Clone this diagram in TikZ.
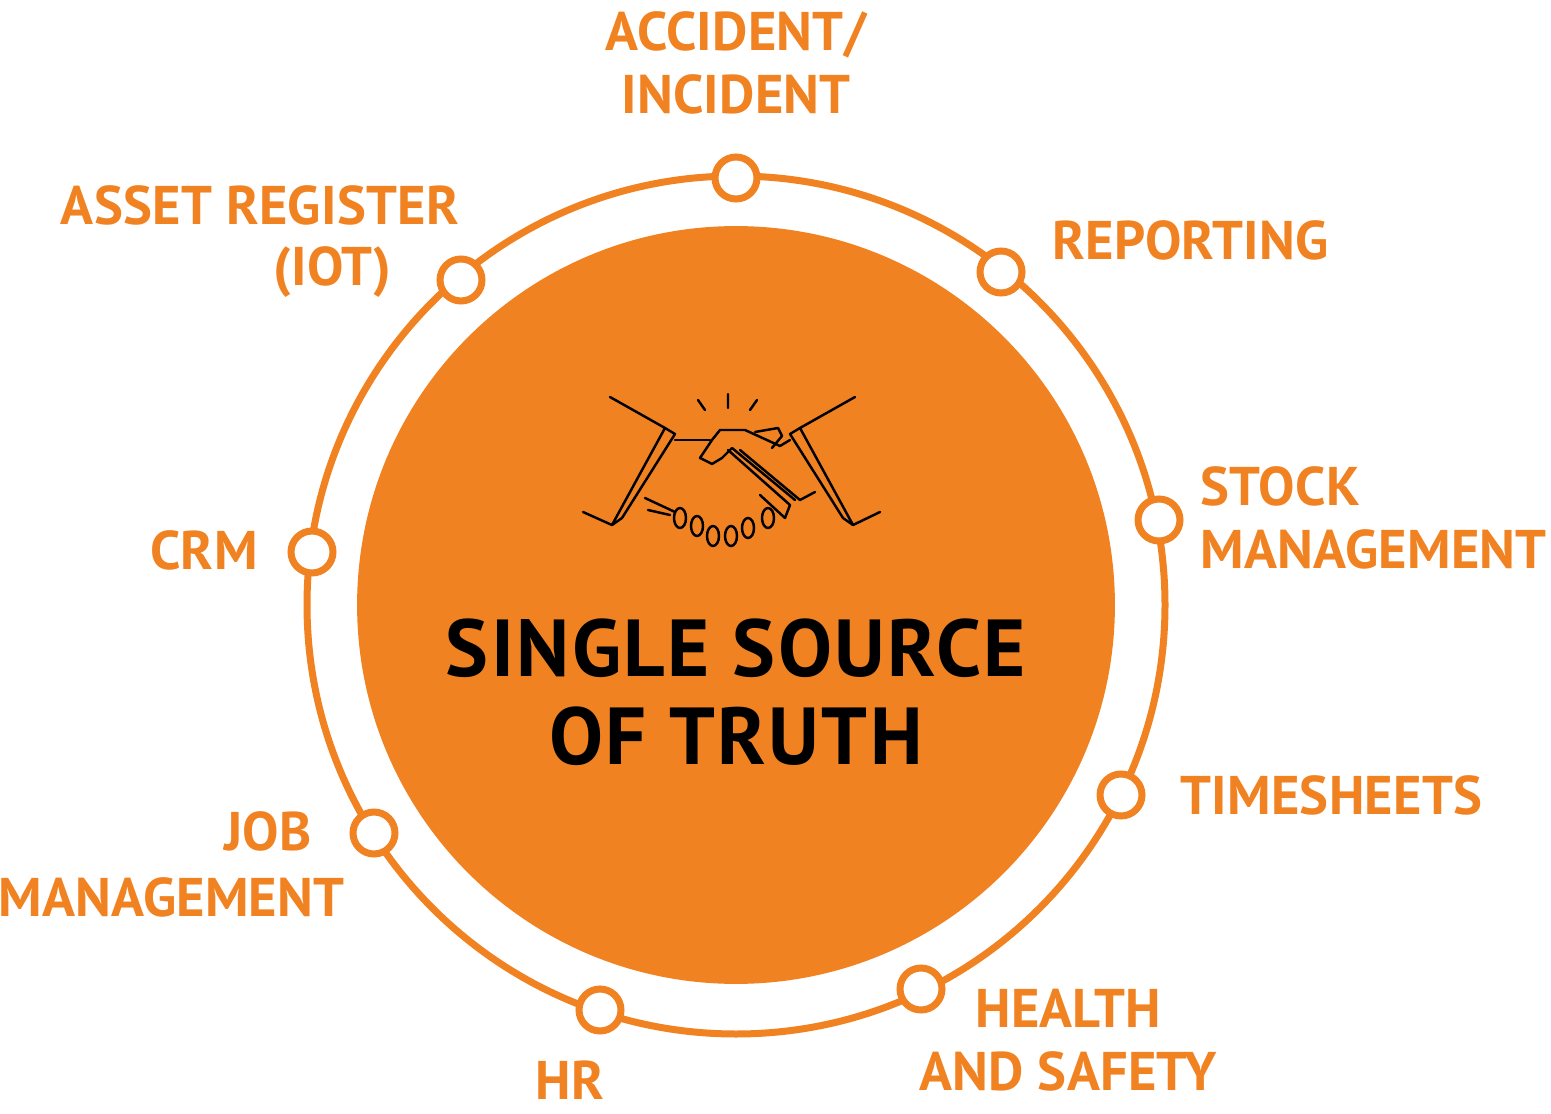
\documentclass[tikz,border=0pt]{standalone}
\usepackage{fontspec}
\setmainfont{PT Sans}
\usepackage{xcolor}
\usetikzlibrary{positioning}
\definecolor{brand}{HTML}{F18221}

\begin{document}
\begin{tikzpicture}[x=0.02cm, y=-0.02cm,
  hub/.style={circle, fill=brand, minimum size=15.16cm, inner sep=0pt}, % the big orange disc
  spoke/.style={circle, draw=brand, line width=7*0.02cm, fill=white, minimum size=0.84cm, inner sep=0pt}, % small ring markers
  tag/.style={text=brand, font=\fontsize{31}{36}\selectfont\bfseries\addfontfeatures{LetterSpace=0.5}, inner sep=0pt, align=center},
  icon/.style={line width=1.4pt, line cap=round, line join=round, draw=black}
]
  \useasboundingbox (0,0) rectangle (1551,1114);
  \node[hub] (core) at (736,605) {};
  \draw[brand, line width=7*0.02cm] (736,605) circle (429);

  \node[spoke] (p1) at (736,178) {};
  \node[spoke] (p2) at (1001,272) {};
  \node[spoke] (p3) at (1159,520) {};
  \node[spoke] (p4) at (1121,795) {};
  \node[spoke] (p5) at (921,989) {};
  \node[spoke] (p6) at (600,1010) {};
  \node[spoke] (p7) at (374,833) {};
  \node[spoke] (p8) at (312,552) {};
  \node[spoke] (p9) at (461,280) {};

  \node[tag] (l1) at (736,63) {ACCIDENT/\\INCIDENT};
  \node[tag, anchor=west] (l2) at (1052,240) {REPORTING};
  \node[tag, anchor=west, align=left] (l3) at (1200,518) {STOCK\\MANAGEMENT};
  \node[tag, anchor=west] (l4) at (1180,795) {TIMESHEETS};
  \node[tag] (l5) at (1068,1040) {HEALTH\\AND SAFETY};
  \node[tag] (l6) at (570,1080) {HR};
  \node[tag, anchor=east] (l7) at (312,831) {JOB};
  \node[tag, anchor=east] (l7b) at (345,897) {MANAGEMENT};
  \node[tag, anchor=east] (l8) at (258,550) {CRM};
  \node[tag] (l9) at (260,205) {ASSET REGISTER};
  \node[tag, anchor=east] (l9b) at (392,272) {(IOT)};

  \node[font=\fontsize{46}{50}\selectfont\bfseries\addfontfeatures{LetterSpace=3}, align=center, inner sep=0pt] (title) at (736,692) {SINGLE SOURCE\\OF TRUTH};

  % handshake icon
  \draw[icon] (610,397) -- (665,428) -- (612,525) -- (583,512);
  \draw[icon] (665,428) -- (675,434) -- (622,518) -- (612,525);
  \draw[icon] (675,440) -- (710,440);
  \draw[icon] (855,397) -- (800,428) -- (853,525) -- (880,512);
  \draw[icon] (800,428) -- (790,434) -- (843,518) -- (853,525);
  \draw[icon] (790,440) -- (780,446) -- (745,430) -- (720,430) -- (712,440) -- (700,458) -- (712,464) -- (722,458) -- (732,448) -- (795,500);
  \draw[icon] (755,432) -- (778,428) -- (782,436) -- (772,448);
  \draw[icon] (645,498) -- (675,512) (740,450) -- (800,500) -- (815,492);
  \draw[icon] (728,450) -- (790,505) -- (785,518) -- (760,495);
  \draw[icon] (648,510) -- (670,515);
  \foreach \x/\y in {680/518, 697/526, 713/536, 731/536, 748/528, 768/518}
    \draw[icon] (\x,\y) ellipse (6 and 10);
  \draw[icon] (705,410) -- (698,400) (728,408) -- (728,394) (750,410) -- (757,400);
\end{tikzpicture}
\end{document}
